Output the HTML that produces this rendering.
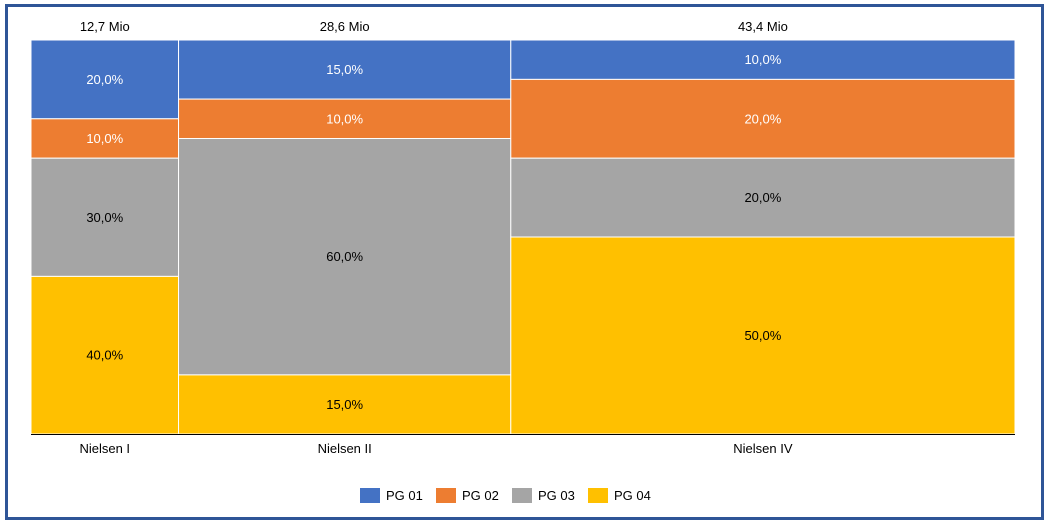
<!DOCTYPE html>
<html><head><meta charset="utf-8"><style>
body{margin:0;background:#fff;}
svg text{font-family:"Liberation Sans",sans-serif;font-size:13px;}
</style></head><body>
<svg width="1049" height="526">
<rect x="6.5" y="5.5" width="1036" height="513" fill="#fff" stroke="#2F5597" stroke-width="3"/>
<g id="plot"></g>
<line x1="31" y1="434.5" x2="1015" y2="434.5" stroke="#000" stroke-width="1"/>
<g id="legend"></g>
</svg>
<script>
const categories=["Nielsen I","Nielsen II","Nielsen IV"];
const totals=[12.7,28.6,43.4];
const totalLabels=["12,7 Mio","28,6 Mio","43,4 Mio"];
const seriesNames=["PG 01","PG 02","PG 03","PG 04"];
const pg01=[20,15,10];
const pg02=[10,10,20];
const pg03=[30,60,20];
const pg04=[40,15,50];
const series=[pg01,pg02,pg03,pg04];
const colors=["#4472C4","#ED7D31","#A5A5A5","#FFC000"];
const textColors=["#fff","#fff","#000","#000"];
const X0=31,X1=1015,Y0=40,Y1=434;
const NS="http://www.w3.org/2000/svg";
const sum=totals.reduce((a,b)=>a+b,0);
function xs(v){return X0+(X1-X0)*v/sum;}
function ys(p){return Y0+(Y1-Y0)*p/100;}
const plot=document.getElementById('plot');
function mk(tag,attrs,parent){const e=document.createElementNS(NS,tag);for(const k in attrs)e.setAttribute(k,attrs[k]);parent.appendChild(e);return e;}
let cum=0;
categories.forEach((c,i)=>{
 const x=xs(cum),w=xs(cum+totals[i])-x;cum+=totals[i];
 let p=0;
 series.forEach((s,j)=>{
  const y=ys(p),h=ys(p+s[i])-y;p+=s[i];
  const r=mk('rect',{x:x,y:y,width:w,height:h,fill:colors[j],stroke:'#fff','stroke-width':1},plot);
  
  
  const t=mk('text',{x:x+w/2,y:y+h/2+4.5,'text-anchor':'middle',fill:textColors[j]},plot);
  t.textContent=s[i].toFixed(1).replace('.',',')+'%';
  
  
 });
 const tt=mk('text',{x:x+w/2,y:31,'text-anchor':'middle',fill:'#000'},plot);
 tt.textContent=totalLabels[i];
 
 
 const ct=mk('text',{x:x+w/2,y:453,'text-anchor':'middle',fill:'#000'},plot);
 ct.textContent=c;
 
 
});
const lg=document.getElementById('legend');
seriesNames.forEach((n,j)=>{
 const lx=360+76*j;
 const r=mk('rect',{x:lx,y:488,width:20,height:15,fill:colors[j]},lg);
 
 
 const t=mk('text',{x:lx+26,y:500,fill:'#000'},lg);
 t.textContent=n;
 
 
});
</script>
</body></html>
